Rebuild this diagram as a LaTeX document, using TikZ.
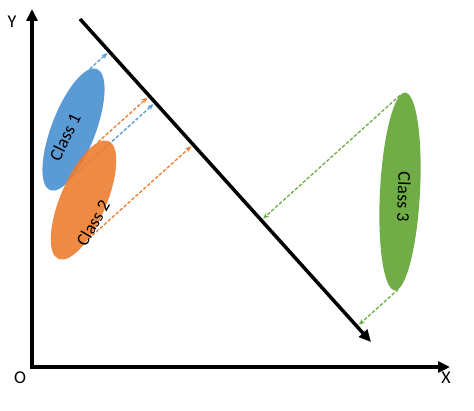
\documentclass[tikz,border=0pt]{standalone}
\usepackage{fontspec}
\setmainfont{Carlito}
\definecolor{ClassBlue}{HTML}{5B9BD5}
\definecolor{ClassOrange}{HTML}{ED7D31}
\definecolor{ClassGreen}{HTML}{70AD47}
\usetikzlibrary{arrows.meta,shapes.geometric,calc}

\begin{document}
\begin{tikzpicture}[x=1pt,y=1pt,
    blob/.style={ellipse,inner sep=0pt,draw=none},
    lbl/.style={font=\fontsize{18}{20}\selectfont,inner sep=0pt},
    axis/.style={line width=3.5pt,line join=miter},
    bigtip/.style={-{Triangle[length=12pt,width=11pt]}},
    proj/.style={dash pattern=on 3.5pt off 1.8pt,line width=1.3pt,-{Stealth[length=6pt,width=5pt]},shorten >=2.5pt}]
  \useasboundingbox (0,0) rectangle (474,410);
  \coordinate (o) at (32,43);
  \coordinate (ytip) at (32,401);
  \coordinate (xtip) at (450,43);
  \coordinate (a) at (80,391);
  \coordinate (b) at (371,68);
  % classes and their projections
  \node[blob,fill=ClassBlue,rotate=69,minimum width=130pt,minimum height=44pt] (c1) at (73.5,280.5) {};
  \foreach \t in {6,200}{\draw[proj,ClassBlue] (c1.\t) -- ($(a)!(c1.\t)!(b)$);}
  \node[blob,fill=ClassOrange,fill opacity=0.9,rotate=67,minimum width=128pt,minimum height=46pt] (c2) at (83.5,210) {};
  \foreach \t in {9,210}{\draw[proj,ClassOrange] (c2.\t) -- ($(a)!(c2.\t)!(b)$);}
  \node[blob,fill=ClassGreen,rotate=-93,minimum width=198pt,minimum height=40pt] (c3) at (400,218.5) {};
  \foreach \t in {183,2}{\draw[proj,ClassGreen] (c3.\t) -- ($(a)!(c3.\t)!(b)$);}
  \node[lbl,rotate=64] (l1) at (65,273) {Class 1};
  \node[lbl,rotate=60] (l2) at (93,187) {Class 2};
  \node[lbl,rotate=-92] (l3) at (404,213) {Class 3};
  % axes and the projection line
  \draw[axis,{Triangle[length=12pt,width=11pt]}-{Triangle[length=12pt,width=11pt]}] (ytip) -- (o) -- (xtip);
  \draw[axis,bigtip] (a) -- (b);
  \node[lbl] (ylab) at (12,388) {Y};
  \node[lbl] (olab) at (20,32) {O};
  \node[lbl] (xlab) at (446,32) {X};
\end{tikzpicture}
\end{document}
